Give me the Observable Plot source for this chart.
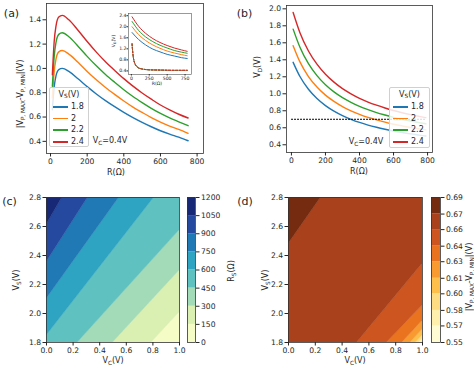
<!DOCTYPE html>
<html><head><meta charset="utf-8">
<script src="https://cdn.jsdelivr.net/npm/d3@7"></script>
<script src="https://cdn.jsdelivr.net/npm/@observablehq/plot@0.6"></script>
<style>
html,body{margin:0;padding:0;background:#fff}
#fig{position:relative;width:474px;height:368px;overflow:hidden;font-family:"DejaVu Sans",sans-serif;color:#262626;background:#fff}
#fig svg{position:absolute}
.lbl{position:absolute;white-space:nowrap;line-height:1}
.s{font-size:0.72em;position:relative;top:0.3em}
.leg{position:absolute;border:1px solid #d0d0d0;border-radius:2px;background:rgba(255,255,255,0.85);box-sizing:border-box}
</style></head><body><div id="fig"></div><script>
// ---------- data ----------
const vsLabels = ["1.8", "2", "2.2", "2.4"];
const vsColors = ["#1f77b4", "#ff7f0e", "#2ca02c", "#d62728"];

// (a) |V_P,MAX - V_P,MIN| vs R
const rA = [10, 20, 30, 45, 64, 100, 150, 200, 250, 300, 350, 400, 450, 500, 550, 600, 650, 700, 751];
const swingA18 = [0.66, 0.85, 0.94, 0.99, 1.0, 0.975, 0.915, 0.85, 0.79, 0.735, 0.685, 0.638, 0.595, 0.556, 0.52, 0.487, 0.459, 0.434, 0.405];
const swingA20 = [0.757, 0.975, 1.078, 1.136, 1.147, 1.118, 1.05, 0.975, 0.906, 0.843, 0.786, 0.732, 0.682, 0.638, 0.596, 0.559, 0.526, 0.498, 0.466];
const swingA22 = [0.853, 1.099, 1.215, 1.28, 1.293, 1.261, 1.183, 1.099, 1.021, 0.95, 0.886, 0.825, 0.769, 0.719, 0.672, 0.63, 0.593, 0.561, 0.529];
const swingA24 = [0.948, 1.221, 1.35, 1.422, 1.436, 1.4, 1.314, 1.221, 1.134, 1.055, 0.984, 0.916, 0.854, 0.798, 0.747, 0.699, 0.659, 0.623, 0.592];
const ticksAx = [0, 200, 400, 600, 800];
const ticksAy = [0.4, 0.6, 0.8, 1.0, 1.2, 1.4];

// (a) inset V_D vs R
const rIn = [10, 100, 200, 300, 400, 500, 600, 700, 780];
const vdIn18 = [1.79, 1.54, 1.34, 1.19, 1.09, 1.0, 0.94, 0.88, 0.85];
const vdIn20 = [2.0, 1.72, 1.5, 1.34, 1.22, 1.12, 1.05, 0.99, 0.95];
const vdIn22 = [2.19, 1.87, 1.63, 1.46, 1.33, 1.23, 1.14, 1.08, 1.04];
const vdIn24 = [2.36, 2.02, 1.76, 1.57, 1.43, 1.32, 1.23, 1.16, 1.11];
const rInLow = [10, 20, 30, 50, 75, 100, 150, 250, 400, 600, 780];
const vpIn18 = [1.38, 1.05, 0.85, 0.66, 0.56, 0.51, 0.47, 0.44, 0.43, 0.42, 0.42];
const vpIn20 = [1.38, 1.05, 0.85, 0.66, 0.56, 0.51, 0.47, 0.44, 0.43, 0.42, 0.42];
const vpIn22 = [1.38, 1.05, 0.85, 0.66, 0.56, 0.51, 0.47, 0.44, 0.43, 0.42, 0.42];
const vpIn24 = [1.38, 1.05, 0.85, 0.66, 0.56, 0.51, 0.47, 0.44, 0.43, 0.42, 0.42];
const ticksInX = [0, 250, 500, 750];
const ticksInY = [0.4, 0.8, 1.2, 1.6, 2.0, 2.4];

// (b) V_D vs R
const rB = [10, 50, 100, 150, 200, 250, 300, 350, 400, 450, 500, 550, 600, 650, 700, 750, 790];
const vdB18 = [1.370, 1.203, 1.053, 0.944, 0.861, 0.796, 0.743, 0.700, 0.663, 0.632, 0.606, 0.583, 0.562, 0.544, 0.528, 0.514, 0.503];
const vdB20 = [1.566, 1.375, 1.203, 1.079, 0.984, 0.910, 0.849, 0.800, 0.758, 0.722, 0.693, 0.666, 0.642, 0.622, 0.603, 0.587, 0.575];
const vdB22 = [1.761, 1.547, 1.354, 1.214, 1.107, 1.023, 0.955, 0.900, 0.852, 0.813, 0.779, 0.750, 0.723, 0.699, 0.679, 0.661, 0.647];
const vdB24 = [1.957, 1.719, 1.504, 1.349, 1.230, 1.137, 1.061, 1.000, 0.947, 0.903, 0.866, 0.833, 0.803, 0.777, 0.754, 0.734, 0.719];
const vdThreshold = 0.7;
const thresholdSpan = [0, 790];
const ticksBx = [0, 200, 400, 600, 800];
const ticksBy = [0.4, 0.6, 0.8, 1.0, 1.2, 1.4, 1.6, 1.8, 2.0];

// (c) R_S contour bands: V_S where each level line meets V_C = 0 and V_C = 1
const rsLevels = [0, 150, 300, 450, 600, 750, 900, 1050, 1200];
const rsLineAtVc0 = [0.74, 1.018, 1.303, 1.562, 1.846, 2.10, 2.354, 2.61, 2.86];
const rsLineAtVc1 = [1.73, 2.008, 2.297, 2.574, 3.024, 3.38, 3.784, 4.21, 4.66];
const rsColors = ["#f6fcc5", "#daf0b2", "#a3dbb8", "#60c2c0", "#2fa4c2", "#2078b4", "#24499e", "#172976"];

// (d) swing contour bands
const swLevels = [0.550, 0.566, 0.581, 0.597, 0.612, 0.628, 0.643, 0.659, 0.674, 0.690];
const swLineAtVc0 = [0.77, 0.795, 0.827, 0.85, 0.89, 0.95, 1.089, 1.228, 2.48, 3.0];
const swLineAtVc1 = [1.77, 1.795, 1.827, 1.85, 1.89, 1.95, 2.055, 2.343, 3.80, 4.5];
const swColors = ["#fffbd3", "#fff0ae", "#fedc82", "#febf4b", "#f89a30", "#e9731f", "#cc5520", "#a8411c", "#752b0f"];

const ticksVc = [0, 0.2, 0.4, 0.6, 0.8, 1.0];
const ticksVs = [1.8, 2.0, 2.2, 2.4, 2.6, 2.8];

// ---------- helpers ----------
const fig = document.getElementById("fig");
const baseStyle = {fontFamily: "DejaVu Sans", fontSize: "7.6px", color: "#262626", background: "none", overflow: "visible"};
function place(svg, left, top) { svg.style.left = left + "px"; svg.style.top = top + "px"; fig.appendChild(svg); }
function text(html, cx, cy, size, rotate) {
  const d = document.createElement("div");
  d.className = "lbl";
  d.innerHTML = html;
  d.style.left = cx + "px"; d.style.top = cy + "px"; d.style.fontSize = size + "px";
  d.style.transform = "translate(-50%,-50%)" + (rotate ? " rotate(-90deg)" : "");
  fig.appendChild(d);
}
function series(xs, ysList, key) {
  return ysList.flatMap((ys, i) => xs.map((x, j) => ({x, y: ys[j], s: key[i]})));
}
function bands(levels, at0, at1) {
  return levels.slice(0, -1).flatMap((L, k) => [
    {vc: 0, lo: at0[k], hi: at0[k + 1], L},
    {vc: 1, lo: at1[k], hi: at1[k + 1], L}
  ]);
}
function legend(left, top, w, h) {
  const d = document.createElement("div");
  d.className = "leg";
  d.style.left = left + "px"; d.style.top = top + "px"; d.style.width = w + "px"; d.style.height = h + "px";
  let html = `<div class="lbl" style="left:50%;top:6.5px;transform:translate(-50%,-50%);font-size:8px">V<span class="s">S</span>(V)</div>`;
  vsLabels.forEach((lab, i) => {
    const y = 19 + i * 11.6;
    html += `<div style="position:absolute;left:3px;top:${y - 0.75}px;width:15px;height:1.5px;background:${vsColors[i]}"></div>`;
    html += `<div class="lbl" style="left:21px;top:${y}px;transform:translateY(-50%);font-size:8px">${lab}</div>`;
  });
  d.innerHTML = html;
  fig.appendChild(d);
}
const axStyle = {tickSize: 3.5, tickPadding: 2, label: null};

// ---------- (a) ----------
const tableA = series(rA, [swingA18, swingA20, swingA22, swingA24], vsLabels);
place(Plot.plot({
  width: 210, height: 170, marginLeft: 46, marginRight: 7, marginTop: 3, marginBottom: 17,
  style: baseStyle,
  x: {domain: [-22, 835]}, y: {domain: [0.30, 1.534]},
  color: {domain: vsLabels, range: vsColors},
  marks: [
    Plot.line(tableA, {x: "x", y: "y", stroke: "s", strokeWidth: 1.4, curve: "monotone-x"}),
    Plot.frame({stroke: "#333", strokeWidth: 0.8}),
    Plot.axisX({...axStyle, ticks: ticksAx}),
    Plot.axisY({...axStyle, ticks: ticksAy, tickFormat: ".1f"})
  ]
}), 0, 0);

// inset
const tableInUp = series(rIn, [vdIn18, vdIn20, vdIn22, vdIn24], vsLabels);
const tableInLow = series(rInLow, [vpIn18, vpIn20, vpIn22, vpIn24], vsLabels);
place(Plot.plot({
  width: 85, height: 82, marginLeft: 18, marginRight: 4, marginTop: 5, marginBottom: 16,
  style: {...baseStyle, fontSize: "4.6px"},
  x: {domain: [-40, 840]}, y: {domain: [0.27, 2.48]},
  color: {domain: vsLabels, range: vsColors},
  marks: [
    Plot.frame({fill: "#fff"}),
    Plot.line(tableInUp, {x: "x", y: "y", stroke: "s", strokeWidth: 1, curve: "monotone-x"}),
    Plot.line(tableInLow, {x: "x", y: "y", stroke: "s", strokeWidth: 1, strokeDasharray: "2,1.5", curve: "monotone-x"}),
    Plot.frame({stroke: "#555", strokeWidth: 0.6}),
    Plot.axisX({tickSize: 1.5, tickPadding: 0.5, label: null, ticks: ticksInX}),
    Plot.axisY({tickSize: 1.5, tickPadding: 0.5, label: null, ticks: ticksInY, tickFormat: ".1f"})
  ]
}), 110, 8);

// ---------- (b) ----------
const tableB = series(rB, [vdB18, vdB20, vdB22, vdB24], vsLabels);
place(Plot.plot({
  width: 200, height: 170, marginLeft: 49, marginRight: 5, marginTop: 5, marginBottom: 18,
  style: baseStyle,
  x: {domain: [-29, 829]}, y: {domain: [0.309, 2.039]},
  color: {domain: vsLabels, range: vsColors},
  marks: [
    Plot.line(tableB, {x: "x", y: "y", stroke: "s", strokeWidth: 1.4, curve: "monotone-x"}),
    Plot.line(thresholdSpan.map(r => ({x: r, y: vdThreshold})), {x: "x", y: "y", stroke: "#000", strokeWidth: 1, strokeDasharray: "1.2,1.8"}),
    Plot.frame({stroke: "#333", strokeWidth: 0.8}),
    Plot.axisX({...axStyle, ticks: ticksBx}),
    Plot.axisY({...axStyle, ticks: ticksBy, tickFormat: ".1f"})
  ]
}), 237, 0);

// ---------- (c) ----------
const rsBands = bands(rsLevels, rsLineAtVc0, rsLineAtVc1);
place(Plot.plot({
  width: 185, height: 184, marginLeft: 46, marginRight: 6, marginTop: 13, marginBottom: 26,
  style: baseStyle,
  x: {domain: [0, 1]}, y: {domain: [1.8, 2.8]},
  color: {type: "ordinal", domain: rsLevels.slice(0, -1), range: rsColors},
  marks: [
    Plot.areaY(rsBands, {x: "vc", y1: "lo", y2: "hi", z: "L", fill: "L", stroke: "L", strokeWidth: 0.4, clip: true}),
    Plot.frame({stroke: "#333", strokeWidth: 0.8}),
    Plot.axisX({...axStyle, ticks: ticksVc, tickFormat: ".1f"}),
    Plot.axisY({...axStyle, ticks: ticksVs, tickFormat: ".1f"})
  ]
}), 0, 184);
const rsBar = rsLevels.slice(0, -1).map((L, k) => ({lo: L, hi: rsLevels[k + 1]}));
place(Plot.plot({
  width: 50, height: 184, marginLeft: 4, marginRight: 38, marginTop: 13, marginBottom: 26,
  style: baseStyle,
  y: {domain: [0, 1200]},
  color: {type: "ordinal", domain: rsLevels.slice(0, -1), range: rsColors},
  marks: [
    Plot.rect(rsBar, {y1: "lo", y2: "hi", fill: "lo"}),
    Plot.frame({stroke: "#333", strokeWidth: 0.8}),
    Plot.axisY({...axStyle, anchor: "right", ticks: rsLevels, tickFormat: "d"})
  ]
}), 183, 184);

// ---------- (d) ----------
const swBands = bands(swLevels, swLineAtVc0, swLineAtVc1);
place(Plot.plot({
  width: 190, height: 184, marginLeft: 51, marginRight: 5, marginTop: 13, marginBottom: 26,
  style: baseStyle,
  x: {domain: [0, 1]}, y: {domain: [1.8, 2.8]},
  color: {type: "ordinal", domain: swLevels.slice(0, -1), range: swColors},
  marks: [
    Plot.areaY(swBands, {x: "vc", y1: "lo", y2: "hi", z: "L", fill: "L", stroke: "L", strokeWidth: 0.4, clip: true}),
    Plot.frame({stroke: "#333", strokeWidth: 0.8}),
    Plot.axisX({...axStyle, ticks: ticksVc, tickFormat: ".1f"}),
    Plot.axisY({...axStyle, ticks: ticksVs, tickFormat: ".1f"})
  ]
}), 237, 184);
const swBar = swLevels.slice(0, -1).map((L, k) => ({lo: L, hi: swLevels[k + 1]}));
place(Plot.plot({
  width: 47, height: 184, marginLeft: 4, marginRight: 34, marginTop: 13, marginBottom: 26,
  style: baseStyle,
  y: {domain: [0.55, 0.69]},
  color: {type: "ordinal", domain: swLevels.slice(0, -1), range: swColors},
  marks: [
    Plot.rect(swBar, {y1: "lo", y2: "hi", fill: "lo"}),
    Plot.frame({stroke: "#333", strokeWidth: 0.8}),
    Plot.axisY({...axStyle, anchor: "right", ticks: swLevels, tickFormat: ".2f"})
  ]
}), 427, 184);

// ---------- text ----------
const swingLabel = `|V<span class="s">P, MAX</span>-V<span class="s">P, MIN</span>|(V)`;
text("(a)", 11.5, 12.5, 11);
text("(b)", 244.5, 12.5, 11);
text("(c)", 9.5, 200.5, 11);
text("(d)", 245, 200.5, 11);
text(swingLabel, 21, 94, 8, true);
text("R(Ω)", 116, 172.5, 8);
text("V<span class=\"s\">D</span>(V)", 258, 67, 8, true);
text("R(Ω)", 359, 172, 8);
text("V<span class=\"s\">S</span>(V)", 17, 280, 8, true);
text("V<span class=\"s\">C</span>(V)", 113, 361, 8);
text("R<span class=\"s\">S</span>(Ω)", 232, 271, 8, true);
text("V<span class=\"s\">S</span>(V)", 266, 280, 8, true);
text("V<span class=\"s\">C</span>(V)", 355, 361, 8);
text(swingLabel, 470, 277, 8, true);
// inset labels
text("V<span class=\"s\">D</span>(V)", 114, 41, 4.6, true);
text("R(Ω)", 157, 83.5, 4.6);
// legends and notes
legend(49, 87, 40, 60);
text("V<span class=\"s\">C</span>=0.4V", 110, 141, 8);
legend(389, 87, 41, 61);
text("V<span class=\"s\">C</span>=0.4V", 366, 142, 8);
</script></body></html>
